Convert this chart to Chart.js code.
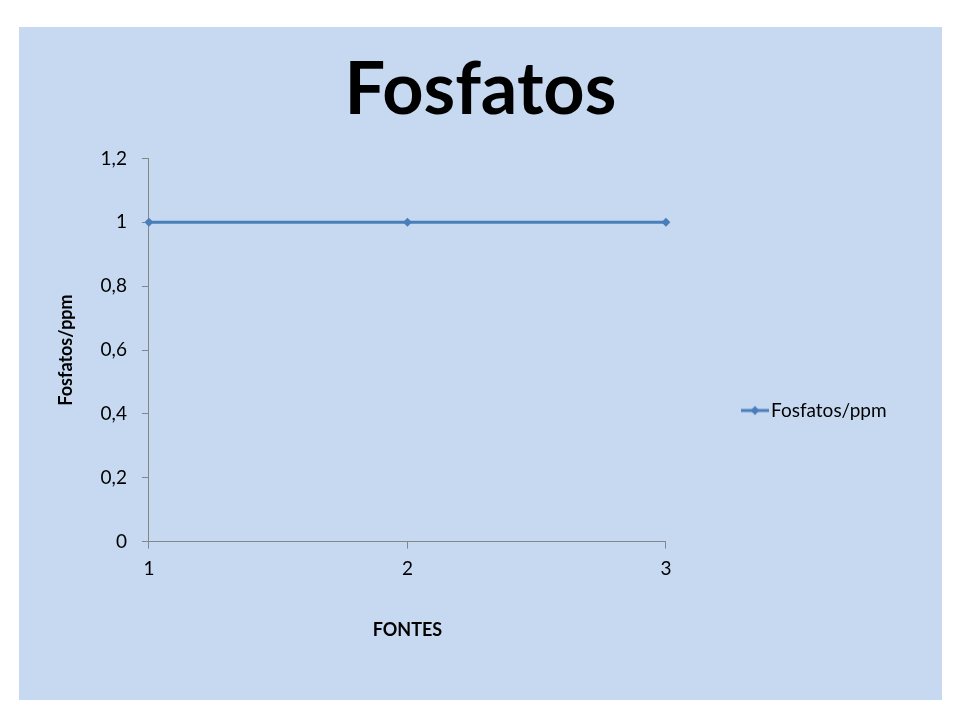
<!DOCTYPE html>
<html lang="pt">
<head>
    <meta charset="UTF-8">
    <title>Fosfatos</title>
    <style>
        body {
            margin: 0;
            background: #ffffff;
        }

        .panel {
            position: absolute;
            left: 19px;
            top: 27px;
            width: 923px;
            height: 673px;
            background: #c6d9f1;
        }
    </style>
    <script src="https://cdn.jsdelivr.net/npm/chart.js"></script>
</head>
<body>
    <div class="panel">
        <canvas id="chart" width="923" height="673"></canvas>
    </div>

    <script>
        // data
        const fontes = ['1', '2', '3'];
        const fosfatos = [1, 1, 1];
        const yTickLabels = ['0', '0,2', '0,4', '0,6', '0,8', '1', '1,2'];

        const lineColor = '#4a7ebb';
        const axisColor = '#868686';
        const fontFamily = 'Lato, "Open Sans", sans-serif';

        // little line + diamond used as the legend marker
        const marker = document.createElement('canvas');
        marker.width = 28;
        marker.height = 12;
        const mctx = marker.getContext('2d');
        mctx.strokeStyle = lineColor;
        mctx.lineWidth = 3;
        mctx.beginPath();
        mctx.moveTo(0, 6);
        mctx.lineTo(28, 6);
        mctx.stroke();
        mctx.fillStyle = lineColor;
        mctx.beginPath();
        mctx.moveTo(14, 1.5);
        mctx.lineTo(18.5, 6);
        mctx.lineTo(14, 10.5);
        mctx.lineTo(9.5, 6);
        mctx.closePath();
        mctx.fill();

        // title centred on the whole panel, legend to the right a bit below the middle
        const placeBoxes = {
            id: 'placeBoxes',
            afterLayout(chart) {
                const tb = chart.titleBlock;
                tb.left = 0;
                tb.right = chart.width;

                const lg = chart.legend;
                const w = lg.right - lg.left;
                const h = lg.bottom - lg.top;
                lg.left = 719.5;
                lg.right = 719.5 + w;
                lg.top = 364;
                lg.bottom = 364 + h;
            }
        };

        new Chart(document.getElementById('chart').getContext('2d'), {
            type: 'line',
            data: {
                labels: fontes,
                datasets: [{
                    label: 'Fosfatos/ppm',
                    data: fosfatos,
                    borderColor: lineColor,
                    backgroundColor: lineColor,
                    borderWidth: 3,
                    pointStyle: 'rectRot',
                    pointRadius: 4.5,
                    pointBorderWidth: 0,
                    fill: false,
                }]
            },
            plugins: [placeBoxes],
            options: {
                responsive: false,
                animation: false,
                layout: {
                    padding: { left: 32, right: 118, top: 0, bottom: 55 }
                },
                plugins: {
                    title: {
                        display: true,
                        text: 'Fosfatos',
                        color: '#000000',
                        font: { family: fontFamily, size: 72, weight: 'bold' },
                        padding: { top: 21, bottom: 24 }
                    },
                    legend: {
                        position: 'right',
                        align: 'start',
                        labels: {
                            color: '#000000',
                            font: { family: fontFamily, size: 19 },
                            usePointStyle: true,
                            pointStyleWidth: 13,
                            padding: 10,
                            generateLabels: (chart) => [{
                                text: chart.data.datasets[0].label,
                                pointStyle: marker,
                                fillStyle: lineColor,
                                strokeStyle: lineColor,
                                lineWidth: 0,
                                datasetIndex: 0
                            }]
                        }
                    },
                    tooltip: { enabled: false }
                },
                scales: {
                    x: {
                        offset: false,
                        grid: {
                            drawOnChartArea: false,
                            color: axisColor,
                            tickLength: 7
                        },
                        border: { color: axisColor },
                        ticks: {
                            color: '#000000',
                            font: { family: fontFamily, size: 19 },
                            padding: 9
                        },
                        title: {
                            display: true,
                            text: 'FONTES',
                            color: '#000000',
                            font: { family: fontFamily, size: 18, weight: 'bold' },
                            padding: { top: 30 }
                        }
                    },
                    y: {
                        min: 0,
                        max: 1.2,
                        grid: {
                            drawOnChartArea: false,
                            color: axisColor,
                            tickLength: 7
                        },
                        border: { color: axisColor },
                        ticks: {
                            stepSize: 0.2,
                            color: '#000000',
                            font: { family: fontFamily, size: 19 },
                            padding: 15,
                            callback: (value, index) => yTickLabels[index]
                        },
                        title: {
                            display: true,
                            text: 'Fosfatos/ppm',
                            color: '#000000',
                            font: { family: fontFamily, size: 18, weight: 'bold' },
                            padding: { bottom: 9 }
                        }
                    }
                }
            }
        });
    </script>
</body>
</html>
